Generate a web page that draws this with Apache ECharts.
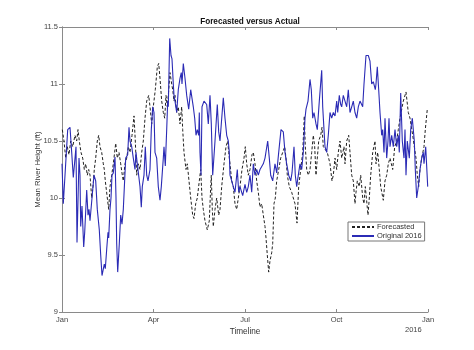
<!DOCTYPE html>
<html><head><meta charset="utf-8">
<script src="https://cdn.jsdelivr.net/npm/echarts@6/dist/echarts.min.js"></script>
<style>html,body{margin:0;padding:0;background:#fff}#c{width:474px;height:350px}</style>
</head><body><div id="c"></div>
<script>
// x tick labels (quarters of 2016), day offsets from Jan 1 2016
const tickLabels = ['Jan','Apr','Jul','Oct','Jan'];
const yearLabel = '2016';
const yTicks = [9, 9.5, 10, 10.5, 11, 11.5];

const originalDays = [0,1.3,3,5.7,8,9.7,11.3,14,15,17,18,18.7,20,21.7,22.7,24.7,26,27,28,29,30,32,33.7,35.3,37.3,38.7,40,42.3,43.3,44.7,46,46.7,48,49,50,51.3,53,54,54.7,55.7,57.3,58.7,60,61.3,63.7,65.7,67,68,69.7,71.3,73,74,75.3,78,79.3,80.3,82,83.3,84.7,86,88,89.3,90.7,92,93,94.7,96.3,98,99.3,101.3,102,103.3,104.7,105.7,106.3,107.7,109,110,111.3,112,113,114.7,116.3,118,119.3,120,121.3,123,124.7,126.7,128.7,130,131.3,132.7,134,135.3,136.7,137.3,138,139,140,142,144.7,146.3,148,149.3,150.7,153,155.3,156.7,158,161.3,163,164.7,166.3,167.3,168,169.7,171.3,173,175.3,176.7,178,179.7,180.7,183,184.7,186.3,188,189.7,191.3,193,194.7,196.3,198,201.3,203,205.7,207.3,208.7,210.7,213,214.7,216.7,219,221.3,223,224.7,226.7,228.7,230,232,233.3,234.7,236.3,238,239.7,241.3,243,244,246,248,249.3,250.7,252,254,255.3,257.3,259.7,260.7,262,263,264.7,266.3,268,269.7,271.3,273,274.7,275.7,277.3,278.7,279.7,281.3,283,284.7,286.3,288,289.7,291.3,293,294.7,296.3,298,300.7,302,304,306.3,308,309.7,311.3,313.3,314,315.3,316.7,318,319.7,320.7,322,323,324.7,326,327,328,329.7,331.3,333,334.7,336.3,337.3,338.7,340.3,342,343,344,345.3,347.3,348.7,350.3,352.3,353.3,354.7,356.3,358,359.7,361.3,362,363.7,365.7];
const originalVals = [10.3,9.95,10.2,10.6,10.62,10.4,10.18,10.45,9.61,10.35,10.2,9.75,9.93,9.57,9.7,10.07,9.85,9.9,9.8,9.8,10.0,10.2,10.15,9.9,9.72,9.5,9.32,9.42,9.38,9.55,9.7,9.65,9.9,10.0,10.2,10.22,10.36,10.0,9.6,9.35,9.6,9.85,9.77,9.9,10.35,10.38,10.62,10.5,10.45,10.35,10.25,10.4,10.3,10.1,9.92,10.1,10.2,10.45,10.2,10.15,10.25,10.6,10.8,10.75,10.4,10.35,10.1,9.98,10.1,10.35,10.45,10.28,10.6,10.85,10.8,11.4,11.25,11.22,11.0,10.9,10.85,10.75,10.95,11.05,11.1,11.0,11.18,11.05,10.9,10.78,10.95,10.95,10.8,10.7,10.55,10.6,10.55,10.75,10.4,10.2,10.8,10.85,10.82,10.65,10.9,10.65,10.2,10.5,10.82,10.58,10.5,10.88,10.7,10.55,10.5,10.4,10.2,10.15,10.1,10.05,10.25,10.05,10.1,10.05,10.02,10.12,10.05,10.1,10.2,10.05,10.3,10.2,10.25,10.2,10.25,10.3,10.35,10.5,10.35,10.2,10.15,10.3,10.22,10.4,10.6,10.58,10.4,10.3,10.2,10.15,10.22,10.45,10.2,10.1,10.2,10.3,10.25,10.4,10.7,10.78,10.85,11.04,10.95,10.7,10.75,10.65,10.6,10.85,11.12,10.8,10.6,10.45,10.4,10.55,10.75,10.7,10.75,10.72,10.85,10.75,10.9,10.82,10.8,10.9,10.85,10.8,10.95,10.75,10.8,10.85,10.75,10.7,10.8,10.85,10.8,11.0,11.25,11.25,11.2,11.0,11.02,10.95,11.0,11.15,10.95,10.75,10.55,10.6,10.4,10.7,10.35,10.5,10.7,10.45,10.55,10.45,10.6,10.45,10.55,10.4,10.92,10.5,10.35,10.6,10.2,10.5,10.35,10.6,10.7,10.5,10.25,10.0,10.1,10.25,10.35,10.4,10.3,10.45,10.1];

const forecastDays = [0.3,2,3.7,5.3,7,8.7,10.7,13,14.7,16,17.3,19,20.7,22.3,23.7,25.3,26.7,28,29.7,31,32.3,33.7,35.3,36.7,38,39.7,41.3,42.3,43.3,45.3,46.7,48,49.7,51.3,53.7,55.3,57,58.7,60.3,61.3,63,64.7,66.3,68,70,72,73.3,74.7,76.3,78,79.7,81.3,83,84.7,86.7,88,89.7,91.3,93.3,95.3,96.7,98,99.7,101.3,102.7,104,105.3,106.3,108,109.7,110.7,112,113,114.7,116.3,118,119.7,120.7,122,124,125.3,127,128.7,130.7,132,133.7,135.3,137.3,138.7,140,141.3,143,145.3,147.3,148.7,149.3,150.3,151.3,153,154.7,156.7,158,159.7,162,164,165.7,166.7,168,169.7,171.3,173,174.7,176.3,178,180,182,183.3,184.7,186.3,188,190,191.3,193,194.7,196.3,198,199.7,201.3,203,204,205.3,206.7,208,209.7,210.7,212,213.3,214.7,216.7,218.7,220.7,222.7,224,225.3,227.3,229.7,231.3,233,235,236.7,238.7,240.7,242.3,243.3,244.7,246.3,248,249.7,251.3,252.7,254,255.3,256.7,258.7,260,261.3,263,265.3,268,270,271.3,273,274.7,276.3,278,279.7,282,283,284.7,286.7,288,289.7,291.3,293,294,295.3,297.3,298.7,300.7,302,303.3,306,307.3,308.7,310.7,313,314,315.7,317.3,318.7,321.3,323,324.7,326.3,328,330.7,332.7,334.7,336.3,338,341.3,344,346.3,348,350.7,352.3,354,355.3,356.7,358,359.7,362,363.3,365.3];
const forecastVals = [10.6,10.5,10.35,10.45,10.38,10.5,10.45,10.55,10.5,10.6,10.5,10.4,10.35,10.25,10.3,10.2,10.25,10.2,10.0,10.1,10.25,10.35,10.5,10.55,10.45,10.4,10.3,10.25,10.15,10.0,9.9,10.1,10.2,10.3,10.48,10.35,10.4,10.3,10.2,10.15,10.3,10.35,10.45,10.4,10.55,10.72,10.5,10.2,10.3,10.25,10.4,10.5,10.7,10.85,10.9,10.8,10.65,10.8,10.95,11.15,11.18,11.05,10.85,10.75,10.7,10.9,10.8,10.9,11.1,11.0,10.95,10.85,10.9,10.75,10.8,10.65,10.8,10.6,10.4,10.25,10.3,10.15,10.0,9.85,9.82,9.95,10.0,10.15,10.25,10.0,9.9,9.8,9.72,9.8,10.1,10.2,9.9,9.75,9.9,10.0,9.85,9.9,10.1,10.3,10.45,10.5,10.4,10.3,10.15,10.1,9.95,9.9,10.0,10.1,10.25,10.35,10.45,10.3,10.2,10.25,10.38,10.4,10.3,10.15,10.05,9.92,9.95,9.85,9.75,9.65,9.5,9.35,9.45,9.52,9.6,9.95,10.0,10.15,10.25,10.35,10.4,10.45,10.35,10.2,10.1,10.05,10.0,9.95,9.78,10.1,10.25,10.4,10.72,10.45,10.25,10.2,10.25,10.4,10.55,10.45,10.2,10.35,10.5,10.55,10.62,10.45,10.45,10.4,10.3,10.15,10.2,10.35,10.25,10.4,10.5,10.35,10.45,10.3,10.5,10.55,10.4,10.2,10.15,9.95,10.05,10.15,10.1,10.2,10.0,9.95,10.1,9.85,10.0,10.2,10.4,10.5,10.3,10.4,10.25,10.1,9.98,10.15,10.2,10.3,10.35,10.25,10.45,10.5,10.6,10.7,10.85,10.93,10.75,10.7,10.55,10.45,10.35,10.2,10.1,10.25,10.35,10.45,10.6,10.78];

const zip = (a, b) => a.map((d, i) => [d, b[i]]);
const chart = echarts.init(document.getElementById('c'), null, {renderer: 'canvas'});
const axisCol = '#8a8a8a', labelCol = '#444', fam = 'Liberation Sans, Arial, sans-serif';
const xBase = {type: 'value', min: 0, max: 366, interval: 91.5, splitLine: {show: false},
  axisLine: {lineStyle: {color: axisCol}}, axisTick: {inside: true, length: 3, lineStyle: {color: axisCol}}};
const yBase = {type: 'value', min: yTicks[0], max: yTicks[yTicks.length - 1], interval: yTicks[1] - yTicks[0], splitLine: {show: false},
  axisLine: {show: true, lineStyle: {color: axisCol}}, axisTick: {show: true, inside: true, length: 3, lineStyle: {color: axisCol}}};
chart.setOption({
  animation: false,
  backgroundColor: '#fff',
  title: {text: 'Forecasted versus Actual', left: 245, top: 13, textAlign: 'center',
    textStyle: {fontSize: 8.2, fontWeight: 'bold', color: '#111', fontFamily: fam}},
  grid: {left: 62, right: 46, top: 27, bottom: 38, show: false},
  legend: {orient: 'vertical', left: 348, top: 222, itemWidth: 22, itemHeight: 8, itemGap: 1,
    padding: [1, 3, 1, 3], borderColor: '#777', borderWidth: 1, backgroundColor: '#fff',
    itemStyle: {opacity: 0},
    textStyle: {fontSize: 7.5, color: '#333', fontFamily: fam, padding: [0, 0, 0, -2]},
    data: ['Forecasted', 'Original 2016']},
  xAxis: [
    Object.assign({}, xBase, {position: 'bottom', name: 'Timeline', nameLocation: 'middle', nameGap: 16,
      nameMoveOverlap: false,
      nameTextStyle: {fontSize: 8.2, color: '#333', fontFamily: fam},
      axisLabel: {fontSize: 7.5, color: labelCol, fontFamily: fam, margin: 4,
        formatter: v => tickLabels[Math.round(v / 91.5)]}}),
    Object.assign({}, xBase, {position: 'top', axisLabel: {show: false}})
  ],
  yAxis: [
    Object.assign({}, yBase, {position: 'left', name: 'Mean River Height (ft)', nameLocation: 'middle', nameGap: 20,
      nameMoveOverlap: false,
      nameTextStyle: {fontSize: 7.8, color: '#333', fontFamily: fam},
      axisLabel: {fontSize: 7.5, color: labelCol, fontFamily: fam, margin: 4,
        formatter: v => String(Math.round(v * 10) / 10)}}),
    Object.assign({}, yBase, {position: 'right', axisLabel: {show: false}})
  ],
  graphic: [{type: 'text', left: 405, top: 326,
    style: {text: yearLabel, fontSize: 7.5, fill: labelCol, fontFamily: fam}}],
  series: [
    {name: 'Forecasted', type: 'line', data: zip(forecastDays, forecastVals), showSymbol: false, symbol: 'none',
      lineStyle: {color: '#222', width: 1, type: [3, 2]}, itemStyle: {color: '#222'}, z: 2},
    {name: 'Original 2016', type: 'line', data: zip(originalDays, originalVals), showSymbol: false, symbol: 'none',
      lineStyle: {color: '#2b2bb5', width: 1.1}, itemStyle: {color: '#2b2bb5'}, z: 3}
  ]
});
</script></body></html>
